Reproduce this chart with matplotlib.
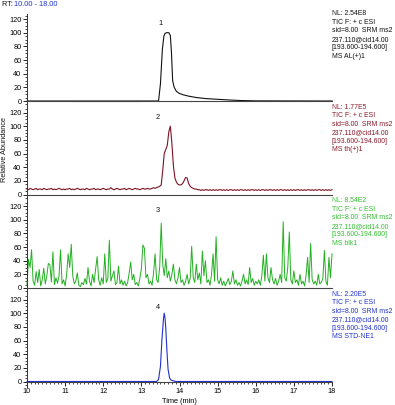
import numpy as np
import matplotlib
matplotlib.use("Agg")
import matplotlib.pyplot as plt
from matplotlib.ticker import MultipleLocator

plt.rcParams['font.family'] = ['Liberation Sans', 'DejaVu Sans']

# ---------------- data ----------------
# Panel 1 (AL(+)1) - black
t1 = [10.00, 13.45, 13.50, 13.55, 13.59, 13.62, 13.66, 13.72, 13.76, 13.79, 13.82,
      13.86, 13.92, 14.00, 14.10, 14.25, 14.45, 14.70, 15.00, 15.30, 15.60, 16.00, 18.00]
y1 = [0, 0, 25, 75, 95, 99, 100, 100, 96, 70, 30,
      20, 14, 11, 9, 7, 5, 3.5, 2.5, 1.5, 0.7, 0.2, 0]
rt_window = [11.2, 13.0]

# Panels 2 and 3 are sampled every 0.04 min from 10.00 to 18.00
step = 0.04
# Panel 2 (th(+)1) - dark red
y2 = [
    8, 7, 9, 8, 7, 8, 9, 7, 8, 8, 7, 9, 8, 7, 8, 8, 9, 7, 8, 7, 8, 9, 8, 7, 8,
    7, 8, 8, 9, 7, 8, 7, 8, 9, 8, 7, 8, 8, 7, 9, 8, 7, 8, 8, 9, 7, 8, 8, 7, 8,
    9, 8, 7, 8, 8, 10, 8, 7, 8, 9, 8, 7, 8, 8, 9, 7, 8, 9, 8, 7, 8, 9, 8, 8, 7,
    8, 9, 8, 8, 9, 8, 8, 9, 10, 9, 10, 11, 12, 14, 35, 60, 66, 72, 92, 100, 75, 42, 24, 18, 15,
    14, 14, 16, 20, 25, 24, 16, 12, 10, 9, 8, 8, 7, 7, 6, 7, 6, 7, 7, 6, 7, 6, 7, 6, 7,
    6, 7, 7, 6, 7, 6, 7, 6, 7, 7, 6, 7, 6, 7, 6, 7, 7, 6, 7, 6, 7, 6, 7, 7, 6,
    7, 6, 7, 6, 7, 7, 6, 7, 6, 7, 7, 6, 7, 6, 7, 6, 7, 7, 6, 7, 6, 7, 6, 7, 6,
    7, 6, 7, 7, 6, 7, 6, 7, 6, 7, 7, 6, 7, 6, 7, 6, 7, 7, 6, 7, 6, 7, 6, 7, 6,
    7,
]
# Panel 3 (blk1) - green noise
y3 = [
    5, 42, 30, 56, 10, 4, 24, 8, 27, 3, 12, 29, 6, 18, 36, 34, 9, 53, 5, 15, 7, 18, 56, 6, 12,
    3, 20, 50, 30, 64, 18, 6, 10, 22, 4, 2, 8, 5, 14, 6, 30, 10, 3, 20, 8, 28, 46, 12, 4, 15,
    6, 50, 8, 14, 70, 10, 18, 25, 5, 8, 32, 6, 12, 4, 10, 3, 8, 22, 38, 12, 20, 5, 8, 3, 14,
    28, 63, 58, 15, 20, 6, 10, 4, 22, 50, 12, 8, 30, 95, 35, 18, 43, 15, 25, 10, 20, 35, 12, 6, 15,
    30, 8, 12, 4, 10, 20, 6, 14, 61, 15, 8, 35, 12, 22, 6, 54, 18, 40, 8, 12, 4, 20, 50, 10, 75,
    12, 6, 15, 4, 10, 3, 8, 14, 5, 10, 25, 6, 12, 4, 8, 3, 10, 20, 6, 12, 5, 30, 8, 14, 4,
    10, 6, 12, 4, 18, 48, 10, 50, 15, 8, 30, 12, 6, 14, 4, 10, 20, 8, 97, 15, 10, 30, 82, 12, 6,
    25, 8, 12, 4, 20, 6, 10, 3, 18, 45, 8, 65, 12, 6, 10, 4, 20, 6, 8, 14, 55, 10, 4, 45, 15,
    50,
]
# Panel 4 (STD-NE1) - blue
t4 = [10.00, 13.40, 13.45, 13.50, 13.54, 13.58, 13.60, 13.62, 13.64, 13.67, 13.70,
      13.74, 13.78, 13.84, 13.90, 18.00]
y4 = [0, 0, 3, 22, 62, 92, 100, 93, 78, 45, 18,
      5, 2, 1, 0, 0]

peak_labels = ["1", "2", "3", "4"]
peak_label_x = [13.50, 13.44, 13.42, 13.44]
peak_label_y = [114, 113, 114, 109]

nl_values = ["2.54E8", "1.77E5", "8.54E2", "2.20E5"]
sample_names = ["MS AL(+)1", "MS th(+)1", "MS blk1", "MS STD-NE1"]
header_lines = ["TIC F: + c ESI", "sid=8.00  SRM ms2", "237.110@cid14.00", "[193.600-194.600]"]

line_colors = ["#111111", "#7a1424", "#22b022", "#2230d0"]
text_colors = ["#111111", "#8b1a2a", "#33c033", "#2233cc"]

xticks = [10, 11, 12, 13, 14, 15, 16, 17, 18]
yticks = [0, 20, 40, 60, 80, 100, 120]

# ---------------- figure ----------------
W, H = 395, 405
fig = plt.figure(figsize=(W / 100, H / 100), dpi=100)

left = 27 / W
width = 305 / W
px_per_unit = 0.683
ymin, ymax = -8, 128
zero_px = [101, 194.5, 288, 381.5]

t_uniform = 10 + step * np.arange(len(y2))
series = [(t1, y1), (t_uniform, y2), (t_uniform, y3), (t4, y4)]

fs = 5.3
fs_block = 4.95
for i in range(4):
    top_px = zero_px[i] - ymax * px_per_unit
    bot_px = zero_px[i] - ymin * px_per_unit
    ax = fig.add_axes([left, 1 - bot_px / H, width, (bot_px - top_px) / H])
    ax.set_facecolor("none")
    ax.set_xlim(10, 18)
    ax.set_ylim(ymin, ymax)
    for s in ("top", "right"):
        ax.spines[s].set_visible(False)
    ax.spines["bottom"].set_position(("data", 0))
    ax.spines["bottom"].set_color("#444444")
    ax.spines["bottom"].set_linewidth(0.8)
    ax.spines["left"].set_linewidth(0.7)
    ax.spines["left"].set_color("#333333")

    ax.set_yticks(yticks)
    ax.yaxis.set_minor_locator(MultipleLocator(5))
    ax.tick_params(axis="y", which="major", direction="out", length=3, width=0.6,
                   labelsize=fs, pad=1)
    ax.tick_params(axis="y", which="minor", direction="out", length=1.5, width=0.5)

    if i < 3:
        ax.tick_params(axis="x", which="both", bottom=False, labelbottom=False)
    else:
        ax.set_xticks(xticks)
        ax.xaxis.set_minor_locator(MultipleLocator(0.1))
        ax.tick_params(axis="x", which="major", direction="out", length=3, width=0.6,
                       labelsize=fs, pad=2)
        ax.tick_params(axis="x", which="minor", direction="out", length=1.5, width=0.5)
        ax.set_xlabel("Time (min)", fontsize=fs, labelpad=2)

    t, y = series[i]
    ax.plot(t, y, color=line_colors[i], lw=0.8 if i != 2 else 0.7, clip_on=False,
            solid_joinstyle="round")
    if i == 0:
        ax.plot(rt_window, [0, 0], color="#5a68c8", lw=0.8)

    ax.text(peak_label_x[i], peak_label_y[i], peak_labels[i], fontsize=fs,
            color="#111111", ha="center", va="center")

    block = "\n".join(["NL: " + nl_values[i]] + header_lines + [sample_names[i]])
    ax.text(1.0, 1.035, block, transform=ax.transAxes, ha="left", va="top",
            fontsize=fs_block, color=text_colors[i], linespacing=1.3)

fig.text(5 / W, 1 - 150 / H, "Relative Abundance", rotation=90, fontsize=fs,
         color="#111111", ha="center", va="center")
fig.text(2 / W, 1 - 5 / H, "RT: ", fontsize=fs, color="#111111", ha="left", va="center")
fig.text(14 / W, 1 - 5 / H, "10.00 - 18.00", fontsize=fs, color="#2233cc",
         ha="left", va="center")

fig.savefig("out.png", dpi=100)
